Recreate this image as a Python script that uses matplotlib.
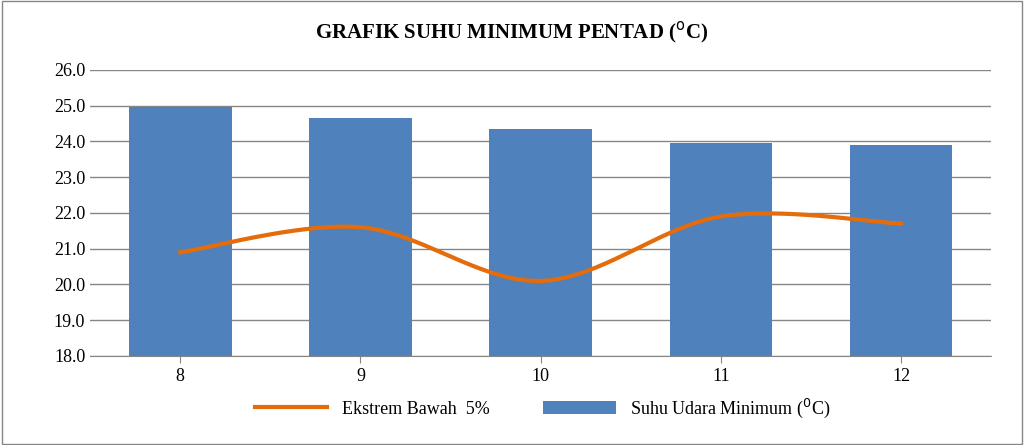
import numpy as np
import matplotlib.pyplot as plt
from matplotlib.patches import Rectangle

# data
pentad = ["8", "9", "10", "11", "12"]
suhu_min = [24.95, 24.65, 24.35, 23.95, 23.9]
ekstrem_bawah = [20.9, 21.6, 20.1, 21.9, 21.7]

plt.rcParams["font.family"] = ["Liberation Serif", "DejaVu Serif"]

fig = plt.figure(figsize=(10.24, 4.45), dpi=100)
ax = fig.add_axes([0.088, 0.2, 0.88, 0.643])

x = np.arange(len(pentad))
ax.bar(x, suhu_min, width=0.57, color="#4f81bd", zorder=2,
       label="Suhu Udara Minimum ($^0$C)")

# smoothed line (Excel-like bezier through the points)
pts = np.column_stack([x, ekstrem_bawah]).astype(float)
ext = np.vstack([pts[0], pts, pts[-1]])
t = np.linspace(0, 1, 40)[:, None]
curve = []
for i in range(len(pts) - 1):
    p0, p3 = ext[i + 1], ext[i + 2]
    p1 = p0 + (ext[i + 2] - ext[i]) / 6
    p2 = p3 - (ext[i + 3] - ext[i + 1]) / 6
    seg = (1 - t) ** 3 * p0 + 3 * (1 - t) ** 2 * t * p1 + 3 * (1 - t) * t ** 2 * p2 + t ** 3 * p3
    curve.append(seg)
curve = np.vstack(curve)
ax.plot(curve[:, 0], curve[:, 1], color="#e46c0a", lw=3, zorder=3,
        label="Ekstrem Bawah  5%")

ax.set_ylim(18, 26)
ax.set_yticks(np.arange(18, 26.1, 1))
ax.set_yticklabels([f"{v:.1f}" for v in np.arange(18, 26.1, 1)], fontsize=13)
ax.set_xlim(-0.5, len(pentad) - 0.5)
ax.set_xticks(x)
ax.set_xticklabels(pentad, fontsize=13)
ax.grid(axis="y", color="#868686", lw=1, zorder=0)
for s in ["top", "right", "left"]:
    ax.spines[s].set_visible(False)
ax.spines["bottom"].set_color("#868686")
ax.tick_params(axis="y", length=0)
ax.tick_params(axis="x", length=5, color="#868686")

fig.text(0.5, 0.925, "GRAFIK SUHU MINIMUM PENTAD ($^{\\mathrm{o}}$C)",
         ha="center", va="center", fontsize=15, fontweight="bold")
fig.legend(loc="lower center", bbox_to_anchor=(0.53, 0.02), ncol=2,
           frameon=False, fontsize=13, handlelength=4, columnspacing=3)
fig.add_artist(Rectangle((0.002, 0.003), 0.996, 0.994, transform=fig.transFigure,
                         fill=False, ec="#868686", lw=1))

fig.savefig("out.png", dpi=100)
